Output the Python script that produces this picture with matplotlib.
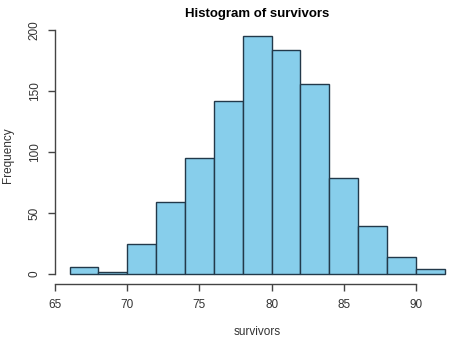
import numpy as np
import matplotlib
matplotlib.use('Agg')
import matplotlib.pyplot as plt

# 히스토그램 데이터 (구간 경계, 빈도)
bin_edges = [66, 68, 70, 72, 74, 76, 78, 80, 82, 84, 86, 88, 90, 92]
counts = [6, 2, 25, 59, 95, 142, 195, 184, 156, 79, 39, 14, 4]
x_ticks = [65, 70, 75, 80, 85, 90]
y_ticks = [0, 50, 100, 150, 200]

plt.rcParams['font.family'] = ['Liberation Sans', 'DejaVu Sans']

fig = plt.figure(figsize=(4.74, 3.38), dpi=100)
ax = fig.add_axes([0.115, 0.161, 0.855, 0.760])

edges = np.array(bin_edges)
widths = np.diff(edges)
ax.bar(edges[:-1], counts, width=widths, align='edge',
       color='#87CEEB', edgecolor='#22394a', linewidth=1.0)

ax.set_xlim(64.96, 93.04)
ax.set_ylim(-7.8, 202.8)

# R 스타일 축
for s in ['top', 'right']:
	ax.spines[s].set_visible(False)
ax.spines['left'].set_bounds(0, 200)
ax.spines['bottom'].set_bounds(65, 90)
for s in ['left', 'bottom']:
	ax.spines[s].set_color('#444444')
	ax.spines[s].set_linewidth(1.0)

ax.set_xticks(x_ticks)
ax.set_yticks(y_ticks)
ax.set_yticklabels([str(v) for v in y_ticks], rotation=90, va='center')
ax.tick_params(axis='both', length=5, width=1.0, color='#444444',
               labelsize=8.5, labelcolor='#333333')
ax.tick_params(axis='y', pad=5)
ax.tick_params(axis='x', pad=6)

ax.set_xlabel('survivors', fontsize=8.5, color='#333333')
ax.xaxis.set_label_coords(0.5, -0.189)
ax.xaxis.label.set_va('center')
ax.set_ylabel('Frequency', fontsize=8.5, color='#333333')
ax.yaxis.set_label_coords(-0.114, 0.5)
ax.yaxis.label.set_va('center')

ax.set_title('Histogram of survivors', fontsize=9.5, fontweight='bold',
             y=1.049, va='center', pad=0)

fig.savefig('out.png', dpi=100)
